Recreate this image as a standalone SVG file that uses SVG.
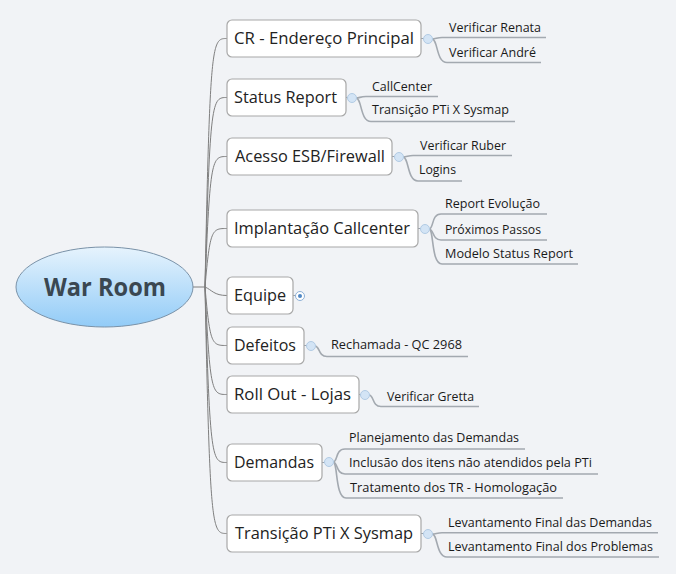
<svg xmlns="http://www.w3.org/2000/svg" width="676" height="574" viewBox="0 0 676 574">
<defs>
<linearGradient id="rootGrad" x1="0" y1="0" x2="0" y2="1">
<stop offset="0" stop-color="#e6f3fd"/>
<stop offset="1" stop-color="#92cbf7"/>
</linearGradient>
<style>
.bg{fill:#f1f3f6}
.box{fill:#ffffff;stroke:#a8a8a8;stroke-width:1.2}
.main{font-family:"Open Sans","Noto Sans","Liberation Sans",sans-serif;font-size:17px;fill:#222}
.sub{font-family:"Open Sans","Noto Sans","Liberation Sans",sans-serif;font-size:12.5px;fill:#1a1a1a}
.root{font-family:"Open Sans","Noto Sans","Liberation Sans",sans-serif;font-size:24.5px;font-weight:bold;fill:#3a4751}
.trunk{fill:none;stroke:#7f7f7f;stroke-width:1}
.stub{fill:none;stroke:#9aa3ad;stroke-width:1}
.ul{fill:none;stroke:#a3a9b0;stroke-width:1.6}
.fold{fill:#d3e4f5;stroke:#b2cbe4;stroke-width:1}
.foldc{fill:#ffffff;stroke:#8eb1d6;stroke-width:1}
.dot{fill:#4f87c4}
</style>
</defs>
<rect class="bg" x="0" y="0" width="676" height="574"/>

<g id="connectors">
<path class="trunk" d="M193,287 L205,287"/>
<path class="trunk" d="M205,287 C210,38 212,38.5 227,38.5"/>
<path class="trunk" d="M205,287 C210,97.5 212,97.5 227,97.5"/>
<path class="trunk" d="M205,287 C210,156.5 212,156.5 227,156.5"/>
<path class="trunk" d="M205,287 C210,228.5 212,228.5 227,228.5"/>
<path class="trunk" d="M205,287 C212,290 214,295.5 227,295.5"/>
<path class="trunk" d="M205,287 C210,345.5 212,345.5 227,345.5"/>
<path class="trunk" d="M205,287 C210,394.5 212,394.5 227,394.5"/>
<path class="trunk" d="M205,287 C210,462.5 212,462.5 227,462.5"/>
<path class="trunk" d="M205,287 C210,533.5 212,533.5 227,533.5"/>

<path class="stub" d="M421,38.5 L424,38.5"/>
<path class="ul" d="M432,39 C436,39 437,37.5 442,37.5 L546,37.5"/>
<path class="ul" d="M432,39 C438,39 436,62.5 447,62.5 L541,62.5"/>

<path class="stub" d="M346,97.5 L348,97.5"/>
<path class="ul" d="M356,98 C360,98 360,96.5 366,96.5 L438,96.5"/>
<path class="ul" d="M356,98 C362,98 360,121.5 371,121.5 L515,121.5"/>

<path class="stub" d="M392,156.5 L395,156.5"/>
<path class="ul" d="M403,157 C407,157 408,155.5 413,155.5 L512,155.5"/>
<path class="ul" d="M403,157 C409,157 407,181 418,181 L462,181"/>

<path class="stub" d="M418,228.5 L421,228.5"/>
<path class="ul" d="M429,229 C434,229 431,214 441,214 L547,214"/>
<path class="ul" d="M429,229 C434,229 432,240 441,240 L547,240"/>
<path class="ul" d="M429,229 C434,229 431,264 442,264 L578,264"/>

<path class="stub" d="M293,295.5 L296,295.5"/>

<path class="stub" d="M304,345.5 L307,345.5"/>
<path class="ul" d="M315,346 C320,346 318,356.5 327,356.5 L468,356.5"/>

<path class="stub" d="M359,394.5 L361,394.5"/>
<path class="ul" d="M369,395 C374,395 372,406.5 381,406.5 L479,406.5"/>

<path class="stub" d="M322,462.5 L325,462.5"/>
<path class="ul" d="M333,462 C338,462 335,449 345,449 L525,449"/>
<path class="ul" d="M333,462 C338,462 336,474 345,474 L598,474"/>
<path class="ul" d="M333,462 C338,462 335,498 346,498 L563,498"/>

<path class="stub" d="M421,533.5 L424,533.5"/>
<path class="ul" d="M432,534 C436,534 437,532.7 442,532.7 L658,532.7"/>
<path class="ul" d="M432,534 C438,534 436,557 447,557 L659,557"/>
</g>

<g id="root">
<ellipse cx="104.5" cy="287" rx="88.5" ry="40" fill="url(#rootGrad)" stroke="#7a92a8" stroke-width="1"/>
<text class="root" x="105" y="296" text-anchor="middle" textLength="122" lengthAdjust="spacingAndGlyphs">War Room</text>
</g>

<g id="n-cr">
<rect class="box" x="227" y="20" width="194" height="37" rx="5"/>
<text class="main" x="234" y="44" textLength="180" lengthAdjust="spacingAndGlyphs">CR - Endereço Principal</text>
<circle class="fold" cx="428" cy="39" r="4.5"/>
</g>
<g id="n-cr-1"><text class="sub" x="449" y="32" textLength="92" lengthAdjust="spacingAndGlyphs">Verificar Renata</text></g>
<g id="n-cr-2"><text class="sub" x="449" y="57" textLength="87" lengthAdjust="spacingAndGlyphs">Verificar André</text></g>

<g id="n-status">
<rect class="box" x="227" y="79" width="119" height="37" rx="5"/>
<text class="main" x="234" y="103" textLength="103" lengthAdjust="spacingAndGlyphs">Status Report</text>
<circle class="fold" cx="352" cy="98" r="4.5"/>
</g>
<g id="n-status-1"><text class="sub" x="372" y="91" textLength="60" lengthAdjust="spacingAndGlyphs">CallCenter</text></g>
<g id="n-status-2"><text class="sub" x="372" y="114" textLength="137" lengthAdjust="spacingAndGlyphs">Transição PTi X Sysmap</text></g>

<g id="n-acesso">
<rect class="box" x="227" y="138" width="165" height="37" rx="5"/>
<text class="main" x="235" y="162" textLength="150" lengthAdjust="spacingAndGlyphs">Acesso ESB/Firewall</text>
<circle class="fold" cx="399" cy="157" r="4.5"/>
</g>
<g id="n-acesso-1"><text class="sub" x="420" y="150" textLength="86" lengthAdjust="spacingAndGlyphs">Verificar Ruber</text></g>
<g id="n-acesso-2"><text class="sub" x="419" y="174" textLength="37" lengthAdjust="spacingAndGlyphs">Logins</text></g>

<g id="n-impl">
<rect class="box" x="227" y="210" width="191" height="37" rx="5"/>
<text class="main" x="234" y="234" textLength="176" lengthAdjust="spacingAndGlyphs">Implantação Callcenter</text>
<circle class="fold" cx="425" cy="229" r="4.5"/>
</g>
<g id="n-impl-1"><text class="sub" x="445" y="207.5" textLength="95" lengthAdjust="spacingAndGlyphs">Report Evolução</text></g>
<g id="n-impl-2"><text class="sub" x="445" y="233.5" textLength="96" lengthAdjust="spacingAndGlyphs">Próximos Passos</text></g>
<g id="n-impl-3"><text class="sub" x="445" y="257.5" textLength="128" lengthAdjust="spacingAndGlyphs">Modelo Status Report</text></g>

<g id="n-equipe">
<rect class="box" x="227" y="277" width="66" height="37" rx="5"/>
<text class="main" x="234" y="301" textLength="52" lengthAdjust="spacingAndGlyphs">Equipe</text>
<circle class="foldc" cx="300" cy="296" r="4.5"/>
<circle class="dot" cx="300" cy="296" r="2"/>
</g>

<g id="n-defeitos">
<rect class="box" x="227" y="327" width="77" height="37" rx="5"/>
<text class="main" x="234" y="351" textLength="62" lengthAdjust="spacingAndGlyphs">Defeitos</text>
<circle class="fold" cx="311" cy="346" r="4.5"/>
</g>
<g id="n-defeitos-1"><text class="sub" x="331" y="349" textLength="131" lengthAdjust="spacingAndGlyphs">Rechamada - QC 2968</text></g>

<g id="n-rollout">
<rect class="box" x="227" y="376" width="132" height="37" rx="5"/>
<text class="main" x="234" y="400" textLength="117" lengthAdjust="spacingAndGlyphs">Roll Out - Lojas</text>
<circle class="fold" cx="365" cy="395" r="4.5"/>
</g>
<g id="n-rollout-1"><text class="sub" x="387" y="400.5" textLength="87" lengthAdjust="spacingAndGlyphs">Verificar Gretta</text></g>

<g id="n-demandas">
<rect class="box" x="227" y="444" width="95" height="37" rx="5"/>
<text class="main" x="234" y="468" textLength="80" lengthAdjust="spacingAndGlyphs">Demandas</text>
<circle class="fold" cx="329" cy="462" r="4.5"/>
</g>
<g id="n-demandas-1"><text class="sub" x="349" y="442" textLength="170" lengthAdjust="spacingAndGlyphs">Planejamento das Demandas</text></g>
<g id="n-demandas-2"><text class="sub" x="349" y="467" textLength="243" lengthAdjust="spacingAndGlyphs">Inclusão dos itens não atendidos pela PTi</text></g>
<g id="n-demandas-3"><text class="sub" x="350" y="492" textLength="207" lengthAdjust="spacingAndGlyphs">Tratamento dos TR - Homologação</text></g>

<g id="n-transicao">
<rect class="box" x="227" y="515" width="194" height="37" rx="5"/>
<text class="main" x="235" y="539" textLength="178" lengthAdjust="spacingAndGlyphs">Transição PTi X Sysmap</text>
<circle class="fold" cx="428" cy="534" r="4.5"/>
</g>
<g id="n-transicao-1"><text class="sub" x="448" y="527" textLength="204" lengthAdjust="spacingAndGlyphs">Levantamento Final das Demandas</text></g>
<g id="n-transicao-2"><text class="sub" x="448" y="551" textLength="205" lengthAdjust="spacingAndGlyphs">Levantamento Final dos Problemas</text></g>
</svg>
